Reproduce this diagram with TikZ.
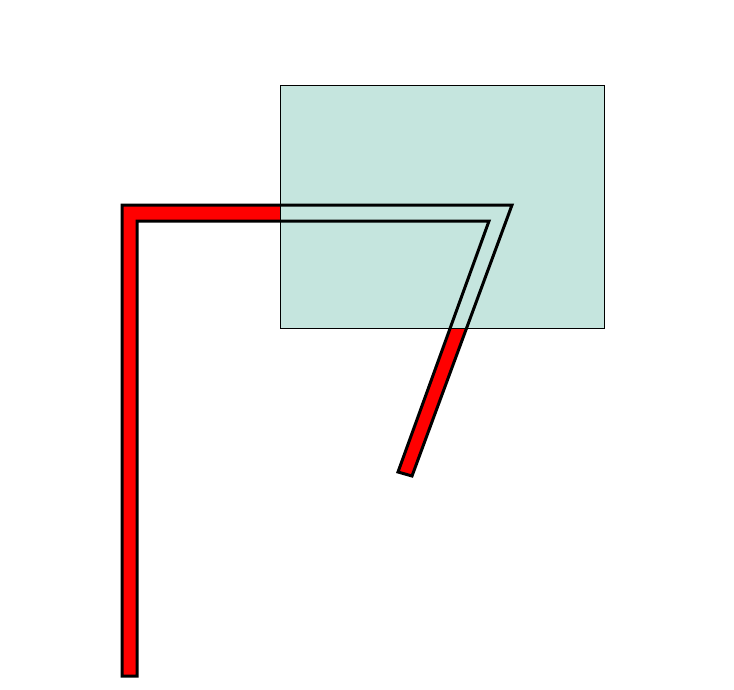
\documentclass[tikz,border=0pt]{standalone}
\begin{document}
\begin{tikzpicture}[x=1pt,y=-1pt]
\definecolor{boxteal}{RGB}{197,229,222}
\tikzset{bar/.style={line width=3pt,line join=miter}, boxstyle/.style={fill=boxteal,draw=black,line width=0.8pt}}
\useasboundingbox (0,0) rectangle (734,690);
\coordinate (a) at (122,676);
\coordinate (b) at (122,205);
\coordinate (c) at (512,205);
\coordinate (d) at (412,476);
\coordinate (e) at (398,472);
\coordinate (f) at (489,221);
\coordinate (g) at (137,221);
\coordinate (h) at (137,676);
\fill[red] (a) -- (b) -- (c) -- (d) -- (e) -- (f) -- (g) -- (h) -- cycle;
\node[boxstyle, minimum width=324pt, minimum height=243pt, inner sep=0pt, anchor=north west] (box) at (280,85) {};
\draw[bar] (a) -- (b) -- (c) -- (d) -- (e) -- (f) -- (g) -- (h) -- cycle;
\end{tikzpicture}
\end{document}
